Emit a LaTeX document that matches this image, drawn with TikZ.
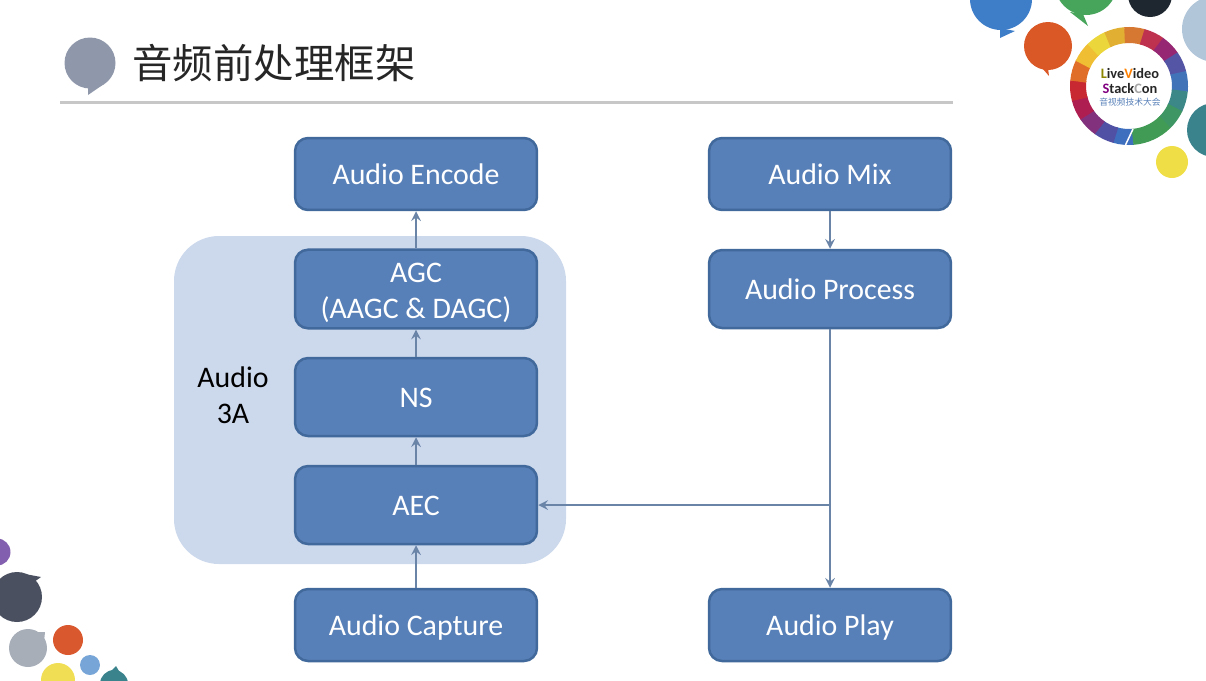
\documentclass[tikz,border=0pt]{standalone}
\usepackage{fontspec}
\setmainfont{Carlito}
\newfontfamily\cjk{Noto Sans CJK SC}
\definecolor{boxblue}{HTML}{5880B8}
\definecolor{boxline}{HTML}{41699C}
\definecolor{panelblue}{HTML}{CCD8EC}
\definecolor{linkblue}{HTML}{6A84A8}
\tikzset{
  block/.style={draw=boxline, line width=.05cm, fill=boxblue, rounded corners=.26cm, minimum width=4.84cm, text=white, font=\fontsize{17}{20.4}\selectfont, align=center},
  short/.style={block, minimum height=1.44cm, text height=12pt, text depth=0pt},
  tall/.style={block, minimum height=1.56cm},
  oneline/.style={tall, text height=12pt, text depth=0pt},
  link/.style={->, draw=linkblue, line width=.05cm}
}
\begin{document}
\begin{tikzpicture}[>=stealth, x=.02cm, y=-.02cm]
\useasboundingbox (0,0) rectangle (1206,680);
% title
\fill[color={rgb,255:red,143;green,152;blue,171}] (90,63) circle (25.5);
\fill[color={rgb,255:red,143;green,152;blue,171}] (88,87) -- (88,95) -- (104,84) -- cycle;
\node (title) at (274,63) {\cjk\fontsize{23}{27}\selectfont\color{black!85}音频前处理框架};
\draw[color=black!22, line width=.06cm] (60,102) -- (953,102);

% bubbles top right
\fill[color={rgb,255:red,62;green,125;blue,200}] (1001,-1) circle (31);
\fill[color={rgb,255:red,62;green,125;blue,200}] (1000,28) -- (1000,38) -- (1015,31) -- cycle;
\fill[color={rgb,255:red,70;green,165;blue,90}] (1086,-16) circle (31);
\fill[color={rgb,255:red,70;green,165;blue,90}] (1070,12) -- (1088,26) -- (1083,14) -- cycle;
\fill[color={rgb,255:red,30;green,38;blue,48}] (1150,-5) circle (22);
\fill[color={rgb,255:red,178;green,198;blue,218}] (1215,29) circle (33);
\fill[color={rgb,255:red,218;green,88;blue,38}] (1048,46) circle (24);
\fill[color={rgb,255:red,218;green,88;blue,38}] (1042,68) -- (1049,76) -- (1048,68) -- cycle;
\fill[color={rgb,255:red,58;green,130;blue,140}] (1214,130) circle (27);
\fill[color={rgb,255:red,240;green,222;blue,70}] (1172,162) circle (16);

% logo ring
\begin{scope}[shift={(1129,86)}]
\foreach \a/\r/\g/\b in {85/62/110/190, 105/80/80/165, 125/130/50/125, 145/175/30/80, 165/200/40/50, 185/225/110/40, 205/240/190/50, 225/235/215/60, 245/225/175/50, 265/215/120/50, 285/190/50/80, 305/150/40/115, 325/85/85/165, 345/65/115/185, 365/60/135/135, 385/62/150/100, 405/65/155/85, 425/65/155/85}
  \draw[color={rgb,255:red,\r;green,\g;blue,\b}, line width=.32cm] (\a:51) arc[start angle=\a, end angle=\a+21, radius=51];
\coordinate (notcha) at (4,43);
\coordinate (notchb) at (-4,60);
\draw[color=white, line width=.03cm] (notcha) -- (notchb);
\end{scope}
\node (logoa) at (1130,73) {\fontsize{8.2}{9}\selectfont\bfseries\color{black!85}{\color{olive}L}ive{\color{orange}V}ideo};
\node (logob) at (1130,88) {\fontsize{8.2}{9}\selectfont\bfseries\color{black!85}{\color{violet}S}tack{\color{black!35}C}on};
\node (logoc) at (1130,102) {\cjk\fontsize{5}{6}\selectfont\color{boxblue}音视频技术大会};

% bubbles bottom left
\fill[color={rgb,255:red,130;green,95;blue,175}] (-3,552) circle (13.5);
\fill[color={rgb,255:red,74;green,80;blue,96}] (17,597) circle (25);
\fill[color={rgb,255:red,74;green,80;blue,96}] (25,574) -- (41,577) -- (34,582) -- cycle;
\fill[color={rgb,255:red,168;green,174;blue,184}] (28,648) circle (19);
\fill[color={rgb,255:red,168;green,174;blue,184}] (36,632) -- (45,632) -- (44,642) -- cycle;
\fill[color={rgb,255:red,218;green,88;blue,45}] (68,640) circle (15);
\fill[color={rgb,255:red,240;green,222;blue,85}] (58,680) circle (17);
\fill[color={rgb,255:red,120;green,165;blue,215}] (90,665) circle (10);
\fill[color={rgb,255:red,58;green,130;blue,140}] (114,684) circle (14);
\fill[color={rgb,255:red,58;green,130;blue,140}] (110,672) -- (116,666) -- (122,676) -- cycle;

% audio 3A panel
\fill[color=panelblue, rounded corners=.9cm] (174,236) rectangle (566,564);
\node[font=\fontsize{17}{20.8}\selectfont, align=center] (label3a) at (233,395) {Audio\\3A};

\node[short] (encode) at (416,174) {Audio Encode};
\node[tall] (agc) at (416,289) {\rule{0pt}{15.3pt}AGC\\(AAGC \& DAGC)};
\node[oneline] (ns) at (416,397) {NS};
\node[oneline] (aec) at (416,505) {AEC};
\node[short] (capture) at (416,625) {Audio Capture};
\node[short] (mix) at (830,174) {Audio Mix};
\node[oneline] (process) at (830,289) {Audio Process};
\node[short] (play) at (830,625) {Audio Play};
\coordinate (branch) at (830,505);

\draw[link] (capture)--(aec);
\draw[link] (aec)--(ns);
\draw[link] (ns)--(agc);
\draw[link] (agc)--(encode);
\draw[link] (mix)--(process);
\draw[link] (process)--(play);
\draw[link] (branch)--(aec);
\end{tikzpicture}
\end{document}
